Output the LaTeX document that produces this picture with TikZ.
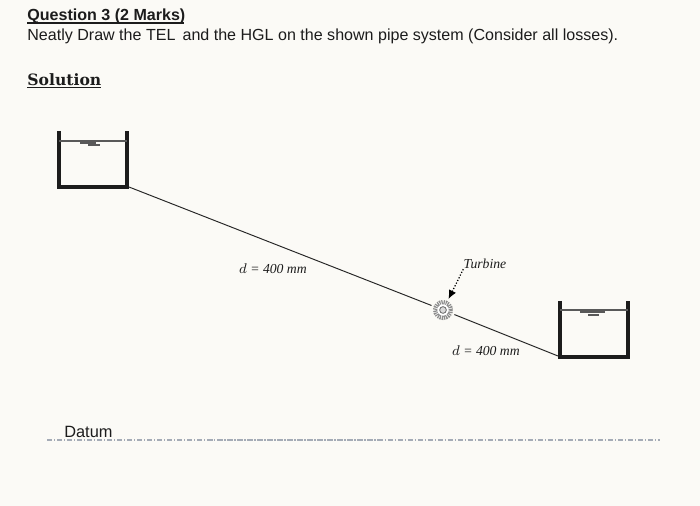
\documentclass[tikz,border=0pt]{standalone}
\usepackage{fontspec}
\setmainfont{Liberation Sans}
\newfontfamily\labelfont{Liberation Serif}
\newfontfamily\titlefont{DejaVu Serif}
\usetikzlibrary{arrows.meta}
\definecolor{paper}{HTML}{FBFAF6}
\definecolor{ink}{HTML}{1C1C1C}
\definecolor{datumline}{HTML}{A4ABB6}
\tikzset{
    headtext/.style={anchor=base west,inner sep=0pt,text=ink,font=\fontsize{9.14}{11}\selectfont},
    pipelabel/.style={inner sep=0pt,text=ink,font=\labelfont\itshape\fontsize{7.8}{9}\selectfont},
    tankwall/.style={line width=2.1pt,ink,line join=miter},
    waterline/.style={line width=0.6pt,black!65},
    pipeline/.style={line width=0.55pt,black!85},
}
\begin{document}
\begin{tikzpicture}[>=latex,x=0.02cm,y=-0.02cm]
\useasboundingbox[fill=paper] (0,0) rectangle (700,506);

\node (question) at (27,21) [headtext,font=\bfseries\fontsize{9.14}{11}\selectfont]{Question 3 (2 Marks)};
\node (task) at (27,41) [headtext]{Neatly Draw the TEL\, and the HGL on the shown pipe system (Consider all losses).};
\node (solution) at (27,85.5) [headtext,font=\titlefont\bfseries\fontsize{8.9}{12}\selectfont]{Solution};
\draw[line width=0.6pt,ink] (question.base west)++(0,2)--++(157,0);
\draw[line width=0.7pt,ink] (solution.base west)++(0,2.2)--++(74,0);

% left tank
\draw[tankwall] (59,131)--(59,187)--(127,187)--(127,131);
\draw[waterline] (59,141)--(127,141);
\draw[waterline] (80,143)--(96,143);
\draw[waterline] (88,145)--(100,145);

% right tank
\draw[tankwall] (560,301)--(560,357)--(628,357)--(628,301);
\draw[waterline] (560,310)--(628,310);
\draw[waterline] (580,312)--(605,312);
\draw[waterline] (588,315)--(599,315);

% pipe and turbine
\coordinate (pipestart) at (129,187);
\coordinate (pipeend) at (558,356);
\node (turbine) at (443,310) [circle,fill=white,inner sep=0pt,minimum size=9pt,outer sep=2.5pt,
    draw=black!45,line width=2.4pt,dash pattern=on 0.7pt off 0.5pt]{};
\node (hub) at (turbine) [circle,draw=black!55,line width=0.5pt,inner sep=0pt,minimum size=3.8pt,fill=black!15]{};
\draw[pipeline] (pipestart)--(turbine);
\draw[pipeline] (turbine)--(pipeend);

\node (labela) at (273,269) [pipelabel]{$d$ = 400 mm};
\node (labelb) at (486,351) [pipelabel]{$d$ = 400 mm};
\node (turbinelabel) at (485,264) [pipelabel]{Turbine};
\draw[-{Latex[length=5pt,width=4.5pt]},densely dotted,line width=0.7pt,black] (turbinelabel.south west)--(turbine);

% datum
\node (datum) at (64,438) [headtext,font=\fontsize{9.3}{11}\selectfont]{Datum};
\coordinate (datumstart) at (47,440);
\coordinate (datumend) at (660,440);
\draw[datumline,line width=0.6pt,dash pattern=on 3pt off 1pt on 0.7pt off 1pt] (datumstart)--(datumend);

\end{tikzpicture}
\end{document}
